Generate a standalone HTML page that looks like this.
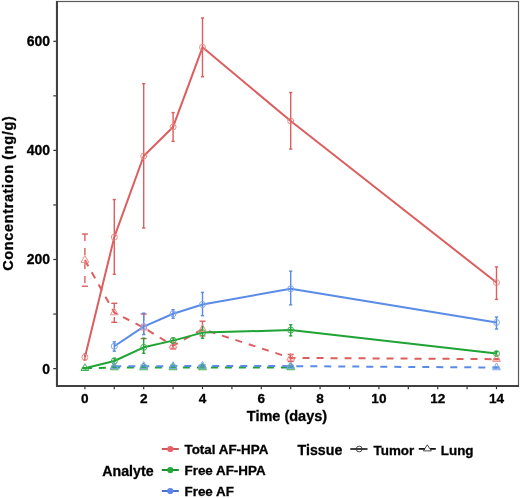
<!DOCTYPE html>
<html><head><meta charset="utf-8"><style>
html,body{margin:0;padding:0;background:#fff;overflow:hidden;}
svg{display:block;}
</style></head><body>
<svg width="520" height="498" viewBox="0 0 520 498">
<rect width="520" height="498" fill="#fff"/>
<rect x="56.5" y="1.5" width="462" height="384.5" fill="none" stroke="#5a5a5a" stroke-width="1.2"/>
<line x1="53.3" x2="57" y1="368.6" y2="368.6" stroke="#333" stroke-width="1.2"/>
<line x1="53.3" x2="57" y1="314.05" y2="314.05" stroke="#333" stroke-width="1.2"/>
<line x1="53.3" x2="57" y1="259.5" y2="259.5" stroke="#333" stroke-width="1.2"/>
<line x1="53.3" x2="57" y1="204.95" y2="204.95" stroke="#333" stroke-width="1.2"/>
<line x1="53.3" x2="57" y1="150.4" y2="150.4" stroke="#333" stroke-width="1.2"/>
<line x1="53.3" x2="57" y1="95.85" y2="95.85" stroke="#333" stroke-width="1.2"/>
<line x1="53.3" x2="57" y1="41.3" y2="41.3" stroke="#333" stroke-width="1.2"/>
<line x1="84.9" x2="84.9" y1="386" y2="389.2" stroke="#333" stroke-width="1.2"/>
<line x1="114.3" x2="114.3" y1="386" y2="389.2" stroke="#333" stroke-width="1.2"/>
<line x1="143.7" x2="143.7" y1="386" y2="389.2" stroke="#333" stroke-width="1.2"/>
<line x1="173.1" x2="173.1" y1="386" y2="389.2" stroke="#333" stroke-width="1.2"/>
<line x1="202.5" x2="202.5" y1="386" y2="389.2" stroke="#333" stroke-width="1.2"/>
<line x1="231.9" x2="231.9" y1="386" y2="389.2" stroke="#333" stroke-width="1.2"/>
<line x1="261.3" x2="261.3" y1="386" y2="389.2" stroke="#333" stroke-width="1.2"/>
<line x1="290.7" x2="290.7" y1="386" y2="389.2" stroke="#333" stroke-width="1.2"/>
<line x1="320.1" x2="320.1" y1="386" y2="389.2" stroke="#333" stroke-width="1.2"/>
<line x1="349.5" x2="349.5" y1="386" y2="389.2" stroke="#333" stroke-width="1.2"/>
<line x1="378.9" x2="378.9" y1="386" y2="389.2" stroke="#333" stroke-width="1.2"/>
<line x1="408.3" x2="408.3" y1="386" y2="389.2" stroke="#333" stroke-width="1.2"/>
<line x1="437.7" x2="437.7" y1="386" y2="389.2" stroke="#333" stroke-width="1.2"/>
<line x1="467.1" x2="467.1" y1="386" y2="389.2" stroke="#333" stroke-width="1.2"/>
<line x1="496.5" x2="496.5" y1="386" y2="389.2" stroke="#333" stroke-width="1.2"/>
<line x1="57" x2="57" y1="1" y2="387" stroke="#404040" stroke-width="2"/>
<line x1="56" x2="519" y1="386" y2="386" stroke="#404040" stroke-width="2"/>
<g stroke="#DC5E5E" stroke-width="1.4" fill="none"><line x1="84.9" x2="84.9" y1="354.09" y2="360.09" /><line x1="83.3" x2="86.5" y1="354.09" y2="354.09"/><line x1="83.3" x2="86.5" y1="360.09" y2="360.09"/></g>
<g stroke="#DC5E5E" stroke-width="1.4" fill="none"><line x1="114.3" x2="114.3" y1="199.5" y2="274.23" /><line x1="112.7" x2="115.9" y1="199.5" y2="199.5"/><line x1="112.7" x2="115.9" y1="274.23" y2="274.23"/></g>
<g stroke="#DC5E5E" stroke-width="1.4" fill="none"><line x1="143.7" x2="143.7" y1="83.69" y2="228.02" /><line x1="142.1" x2="145.3" y1="83.69" y2="83.69"/><line x1="142.1" x2="145.3" y1="228.02" y2="228.02"/></g>
<g stroke="#DC5E5E" stroke-width="1.4" fill="none"><line x1="173.1" x2="173.1" y1="112.6" y2="141.29" /><line x1="171.5" x2="174.7" y1="112.6" y2="112.6"/><line x1="171.5" x2="174.7" y1="141.29" y2="141.29"/></g>
<g stroke="#DC5E5E" stroke-width="1.4" fill="none"><line x1="202.5" x2="202.5" y1="18.01" y2="76.76" /><line x1="200.9" x2="204.1" y1="18.01" y2="18.01"/><line x1="200.9" x2="204.1" y1="76.76" y2="76.76"/></g>
<g stroke="#DC5E5E" stroke-width="1.4" fill="none"><line x1="290.7" x2="290.7" y1="92.52" y2="149.09" /><line x1="289.1" x2="292.3" y1="92.52" y2="92.52"/><line x1="289.1" x2="292.3" y1="149.09" y2="149.09"/></g>
<g stroke="#DC5E5E" stroke-width="1.4" fill="none"><line x1="496.5" x2="496.5" y1="266.92" y2="299.38" /><line x1="494.9" x2="498.1" y1="266.92" y2="266.92"/><line x1="494.9" x2="498.1" y1="299.38" y2="299.38"/></g>
<g stroke="#DC5E5E" stroke-width="1.4" fill="none"><line x1="84.9" x2="84.9" y1="234.03" y2="286.23" stroke-dasharray="7 7"/><line x1="81.9" x2="87.9" y1="234.03" y2="234.03"/><line x1="81.9" x2="87.9" y1="286.23" y2="286.23"/></g>
<g stroke="#DC5E5E" stroke-width="1.4" fill="none"><line x1="114.3" x2="114.3" y1="303.3" y2="322.29" stroke-dasharray="7 7"/><line x1="111.3" x2="117.3" y1="303.3" y2="303.3"/><line x1="111.3" x2="117.3" y1="322.29" y2="322.29"/></g>
<g stroke="#DC5E5E" stroke-width="1.4" fill="none"><line x1="143.7" x2="143.7" y1="314.05" y2="338.6" stroke-dasharray="7 7"/><line x1="140.7" x2="146.7" y1="314.05" y2="314.05"/><line x1="140.7" x2="146.7" y1="338.6" y2="338.6"/></g>
<g stroke="#DC5E5E" stroke-width="1.4" fill="none"><line x1="173.1" x2="173.1" y1="342.42" y2="348.96" stroke-dasharray="7 7"/><line x1="170.1" x2="176.1" y1="342.42" y2="342.42"/><line x1="170.1" x2="176.1" y1="348.96" y2="348.96"/></g>
<g stroke="#DC5E5E" stroke-width="1.4" fill="none"><line x1="202.5" x2="202.5" y1="321.2" y2="335.87" stroke-dasharray="7 7"/><line x1="199.5" x2="205.5" y1="321.2" y2="321.2"/><line x1="199.5" x2="205.5" y1="335.87" y2="335.87"/></g>
<g stroke="#DC5E5E" stroke-width="1.4" fill="none"><line x1="290.7" x2="290.7" y1="354.42" y2="361.51" stroke-dasharray="7 7"/><line x1="287.7" x2="293.7" y1="354.42" y2="354.42"/><line x1="287.7" x2="293.7" y1="361.51" y2="361.51"/></g>
<g stroke="#DC5E5E" stroke-width="1.4" fill="none"><line x1="496.5" x2="496.5" y1="358.73" y2="359.6" stroke-dasharray="7 7"/><line x1="493.5" x2="499.5" y1="358.73" y2="358.73"/><line x1="493.5" x2="499.5" y1="359.6" y2="359.6"/></g>
<g stroke="#1EA334" stroke-width="1.4" fill="none"><line x1="84.9" x2="84.9" y1="367.78" y2="368.6" /><line x1="83.3" x2="86.5" y1="367.78" y2="367.78"/><line x1="83.3" x2="86.5" y1="368.6" y2="368.6"/></g>
<g stroke="#1EA334" stroke-width="1.4" fill="none"><line x1="114.3" x2="114.3" y1="358.24" y2="363.69" /><line x1="112.7" x2="115.9" y1="358.24" y2="358.24"/><line x1="112.7" x2="115.9" y1="363.69" y2="363.69"/></g>
<g stroke="#1EA334" stroke-width="1.4" fill="none"><line x1="143.7" x2="143.7" y1="338.22" y2="353.33" /><line x1="142.1" x2="145.3" y1="338.22" y2="338.22"/><line x1="142.1" x2="145.3" y1="353.33" y2="353.33"/></g>
<g stroke="#1EA334" stroke-width="1.4" fill="none"><line x1="173.1" x2="173.1" y1="337.78" y2="343.51" /><line x1="171.5" x2="174.7" y1="337.78" y2="337.78"/><line x1="171.5" x2="174.7" y1="343.51" y2="343.51"/></g>
<g stroke="#1EA334" stroke-width="1.4" fill="none"><line x1="202.5" x2="202.5" y1="326.6" y2="338.22" /><line x1="200.9" x2="204.1" y1="326.6" y2="326.6"/><line x1="200.9" x2="204.1" y1="338.22" y2="338.22"/></g>
<g stroke="#1EA334" stroke-width="1.4" fill="none"><line x1="290.7" x2="290.7" y1="324.8" y2="335.87" /><line x1="289.1" x2="292.3" y1="324.8" y2="324.8"/><line x1="289.1" x2="292.3" y1="335.87" y2="335.87"/></g>
<g stroke="#1EA334" stroke-width="1.4" fill="none"><line x1="496.5" x2="496.5" y1="351.69" y2="355.51" /><line x1="494.9" x2="498.1" y1="351.69" y2="351.69"/><line x1="494.9" x2="498.1" y1="355.51" y2="355.51"/></g>
<g stroke="#1EA334" stroke-width="1.4" fill="none"><line x1="84.9" x2="84.9" y1="367.78" y2="368.6" stroke-dasharray="7 7"/><line x1="81.9" x2="87.9" y1="367.78" y2="367.78"/><line x1="81.9" x2="87.9" y1="368.6" y2="368.6"/></g>
<g stroke="#1EA334" stroke-width="1.4" fill="none"><line x1="114.3" x2="114.3" y1="366.96" y2="368.05" stroke-dasharray="7 7"/><line x1="111.3" x2="117.3" y1="366.96" y2="366.96"/><line x1="111.3" x2="117.3" y1="368.05" y2="368.05"/></g>
<g stroke="#1EA334" stroke-width="1.4" fill="none"><line x1="143.7" x2="143.7" y1="366.96" y2="368.05" stroke-dasharray="7 7"/><line x1="140.7" x2="146.7" y1="366.96" y2="366.96"/><line x1="140.7" x2="146.7" y1="368.05" y2="368.05"/></g>
<g stroke="#1EA334" stroke-width="1.4" fill="none"><line x1="173.1" x2="173.1" y1="366.96" y2="368.05" stroke-dasharray="7 7"/><line x1="170.1" x2="176.1" y1="366.96" y2="366.96"/><line x1="170.1" x2="176.1" y1="368.05" y2="368.05"/></g>
<g stroke="#1EA334" stroke-width="1.4" fill="none"><line x1="202.5" x2="202.5" y1="366.96" y2="368.05" stroke-dasharray="7 7"/><line x1="199.5" x2="205.5" y1="366.96" y2="366.96"/><line x1="199.5" x2="205.5" y1="368.05" y2="368.05"/></g>
<g stroke="#1EA334" stroke-width="1.4" fill="none"><line x1="290.7" x2="290.7" y1="366.96" y2="368.05" stroke-dasharray="7 7"/><line x1="287.7" x2="293.7" y1="366.96" y2="366.96"/><line x1="287.7" x2="293.7" y1="368.05" y2="368.05"/></g>
<g stroke="#5A8BE6" stroke-width="1.4" fill="none"><line x1="114.3" x2="114.3" y1="341.87" y2="351.14" /><line x1="112.7" x2="115.9" y1="341.87" y2="341.87"/><line x1="112.7" x2="115.9" y1="351.14" y2="351.14"/></g>
<g stroke="#5A8BE6" stroke-width="1.4" fill="none"><line x1="143.7" x2="143.7" y1="313.12" y2="334.62" /><line x1="142.1" x2="145.3" y1="313.12" y2="313.12"/><line x1="142.1" x2="145.3" y1="334.62" y2="334.62"/></g>
<g stroke="#5A8BE6" stroke-width="1.4" fill="none"><line x1="173.1" x2="173.1" y1="309.69" y2="318.2" /><line x1="171.5" x2="174.7" y1="309.69" y2="309.69"/><line x1="171.5" x2="174.7" y1="318.2" y2="318.2"/></g>
<g stroke="#5A8BE6" stroke-width="1.4" fill="none"><line x1="202.5" x2="202.5" y1="292.39" y2="315.69" /><line x1="200.9" x2="204.1" y1="292.39" y2="292.39"/><line x1="200.9" x2="204.1" y1="315.69" y2="315.69"/></g>
<g stroke="#5A8BE6" stroke-width="1.4" fill="none"><line x1="290.7" x2="290.7" y1="271.12" y2="304.89" /><line x1="289.1" x2="292.3" y1="271.12" y2="271.12"/><line x1="289.1" x2="292.3" y1="304.89" y2="304.89"/></g>
<g stroke="#5A8BE6" stroke-width="1.4" fill="none"><line x1="496.5" x2="496.5" y1="317" y2="329" /><line x1="494.9" x2="498.1" y1="317" y2="317"/><line x1="494.9" x2="498.1" y1="329" y2="329"/></g>
<g stroke="#5A8BE6" stroke-width="1.4" fill="none"><line x1="114.3" x2="114.3" y1="365.87" y2="366.96" stroke-dasharray="7 7"/><line x1="111.3" x2="117.3" y1="365.87" y2="365.87"/><line x1="111.3" x2="117.3" y1="366.96" y2="366.96"/></g>
<g stroke="#5A8BE6" stroke-width="1.4" fill="none"><line x1="143.7" x2="143.7" y1="365.33" y2="366.96" stroke-dasharray="7 7"/><line x1="140.7" x2="146.7" y1="365.33" y2="365.33"/><line x1="140.7" x2="146.7" y1="366.96" y2="366.96"/></g>
<g stroke="#5A8BE6" stroke-width="1.4" fill="none"><line x1="173.1" x2="173.1" y1="365.33" y2="366.96" stroke-dasharray="7 7"/><line x1="170.1" x2="176.1" y1="365.33" y2="365.33"/><line x1="170.1" x2="176.1" y1="366.96" y2="366.96"/></g>
<g stroke="#5A8BE6" stroke-width="1.4" fill="none"><line x1="202.5" x2="202.5" y1="364.78" y2="366.96" stroke-dasharray="7 7"/><line x1="199.5" x2="205.5" y1="364.78" y2="364.78"/><line x1="199.5" x2="205.5" y1="366.96" y2="366.96"/></g>
<g stroke="#5A8BE6" stroke-width="1.4" fill="none"><line x1="290.7" x2="290.7" y1="365.33" y2="366.96" stroke-dasharray="7 7"/><line x1="287.7" x2="293.7" y1="365.33" y2="365.33"/><line x1="287.7" x2="293.7" y1="366.96" y2="366.96"/></g>
<g stroke="#5A8BE6" stroke-width="1.4" fill="none"><line x1="496.5" x2="496.5" y1="366.96" y2="368.05" stroke-dasharray="7 7"/><line x1="493.5" x2="499.5" y1="366.96" y2="366.96"/><line x1="493.5" x2="499.5" y1="368.05" y2="368.05"/></g>
<polyline points="84.9,357.31 114.3,237.13 143.7,156.02 173.1,126.94 202.5,47.3 290.7,121 496.5,282.57" fill="none" stroke="#DC5E5E" stroke-width="2.0" stroke-linejoin="round" />
<polyline points="84.9,260.05 114.3,312.52 143.7,327.69 173.1,345.69 202.5,329.21 290.7,357.91 496.5,359.16" fill="none" stroke="#DC5E5E" stroke-width="2.0" stroke-linejoin="round" stroke-dasharray="7 7"/>
<polyline points="84.9,368.22 114.3,361.02 143.7,347.33 173.1,340.62 202.5,332.6 290.7,330.09 496.5,353.54" fill="none" stroke="#1EA334" stroke-width="2.0" stroke-linejoin="round" />
<polyline points="84.9,368.22 114.3,367.51 143.7,367.51 173.1,367.51 202.5,367.51 290.7,367.51" fill="none" stroke="#1EA334" stroke-width="2.0" stroke-linejoin="round" stroke-dasharray="7 7"/>
<polyline points="114.3,346.29 143.7,326.6 173.1,313.72 202.5,304.5 290.7,288.79 496.5,322.51" fill="none" stroke="#5A8BE6" stroke-width="2.0" stroke-linejoin="round" />
<polyline points="114.3,366.42 143.7,366.15 173.1,366.15 202.5,365.87 290.7,366.15 496.5,367.51" fill="none" stroke="#5A8BE6" stroke-width="2.0" stroke-linejoin="round" stroke-dasharray="7 7"/>
<circle cx="84.9" cy="357.31" r="3" fill="none" stroke="#EE8A86" stroke-width="1"/>
<circle cx="114.3" cy="237.13" r="3" fill="none" stroke="#EE8A86" stroke-width="1"/>
<circle cx="143.7" cy="156.02" r="3" fill="none" stroke="#EE8A86" stroke-width="1"/>
<circle cx="173.1" cy="126.94" r="3" fill="none" stroke="#EE8A86" stroke-width="1"/>
<circle cx="202.5" cy="47.3" r="3" fill="none" stroke="#EE8A86" stroke-width="1"/>
<circle cx="290.7" cy="121" r="3" fill="none" stroke="#EE8A86" stroke-width="1"/>
<circle cx="496.5" cy="282.57" r="3" fill="none" stroke="#EE8A86" stroke-width="1"/>
<polygon points="84.9,255.55 81,262.3 88.8,262.3" fill="none" stroke="#EE8A86" stroke-width="1"/>
<polygon points="114.3,308.02 110.4,314.77 118.2,314.77" fill="none" stroke="#EE8A86" stroke-width="1"/>
<polygon points="143.7,323.19 139.8,329.94 147.6,329.94" fill="none" stroke="#EE8A86" stroke-width="1"/>
<polygon points="173.1,341.19 169.2,347.94 177,347.94" fill="none" stroke="#EE8A86" stroke-width="1"/>
<polygon points="202.5,324.71 198.6,331.46 206.4,331.46" fill="none" stroke="#EE8A86" stroke-width="1"/>
<polygon points="290.7,353.41 286.8,360.16 294.6,360.16" fill="none" stroke="#EE8A86" stroke-width="1"/>
<polygon points="496.5,354.66 492.6,361.41 500.4,361.41" fill="none" stroke="#EE8A86" stroke-width="1"/>
<circle cx="114.3" cy="361.02" r="3" fill="none" stroke="#3DB24E" stroke-width="1"/>
<circle cx="143.7" cy="347.33" r="3" fill="none" stroke="#3DB24E" stroke-width="1"/>
<circle cx="173.1" cy="340.62" r="3" fill="none" stroke="#3DB24E" stroke-width="1"/>
<circle cx="202.5" cy="332.6" r="3" fill="none" stroke="#3DB24E" stroke-width="1"/>
<circle cx="290.7" cy="330.09" r="3" fill="none" stroke="#3DB24E" stroke-width="1"/>
<circle cx="496.5" cy="353.54" r="3" fill="none" stroke="#3DB24E" stroke-width="1"/>
<polygon points="84.9,363.72 81,370.47 88.8,370.47" fill="none" stroke="#3DB24E" stroke-width="1"/>
<polygon points="114.3,363.01 110.4,369.76 118.2,369.76" fill="none" stroke="#3DB24E" stroke-width="1"/>
<polygon points="143.7,363.01 139.8,369.76 147.6,369.76" fill="none" stroke="#3DB24E" stroke-width="1"/>
<polygon points="173.1,363.01 169.2,369.76 177,369.76" fill="none" stroke="#3DB24E" stroke-width="1"/>
<polygon points="202.5,363.01 198.6,369.76 206.4,369.76" fill="none" stroke="#3DB24E" stroke-width="1"/>
<polygon points="290.7,363.01 286.8,369.76 294.6,369.76" fill="none" stroke="#3DB24E" stroke-width="1"/>
<circle cx="114.3" cy="346.29" r="3" fill="none" stroke="#7FA6EE" stroke-width="1"/>
<circle cx="143.7" cy="326.6" r="3" fill="none" stroke="#7FA6EE" stroke-width="1"/>
<circle cx="173.1" cy="313.72" r="3" fill="none" stroke="#7FA6EE" stroke-width="1"/>
<circle cx="202.5" cy="304.5" r="3" fill="none" stroke="#7FA6EE" stroke-width="1"/>
<circle cx="290.7" cy="288.79" r="3" fill="none" stroke="#7FA6EE" stroke-width="1"/>
<circle cx="496.5" cy="322.51" r="3" fill="none" stroke="#7FA6EE" stroke-width="1"/>
<polygon points="114.3,361.92 110.4,368.67 118.2,368.67" fill="none" stroke="#7FA6EE" stroke-width="1"/>
<polygon points="143.7,361.65 139.8,368.4 147.6,368.4" fill="none" stroke="#7FA6EE" stroke-width="1"/>
<polygon points="173.1,361.65 169.2,368.4 177,368.4" fill="none" stroke="#7FA6EE" stroke-width="1"/>
<polygon points="202.5,361.37 198.6,368.12 206.4,368.12" fill="none" stroke="#7FA6EE" stroke-width="1"/>
<polygon points="290.7,361.65 286.8,368.4 294.6,368.4" fill="none" stroke="#7FA6EE" stroke-width="1"/>
<polygon points="496.5,363.01 492.6,369.76 500.4,369.76" fill="none" stroke="#7FA6EE" stroke-width="1"/>
<text x="50" y="373.5" font-size="14" text-anchor="end" font-family="Liberation Sans, Arial, sans-serif" font-weight="bold" fill="#000" stroke="#000" stroke-width="0.3">0</text>
<text x="50" y="264.4" font-size="14" text-anchor="end" font-family="Liberation Sans, Arial, sans-serif" font-weight="bold" fill="#000" stroke="#000" stroke-width="0.3">200</text>
<text x="50" y="155.3" font-size="14" text-anchor="end" font-family="Liberation Sans, Arial, sans-serif" font-weight="bold" fill="#000" stroke="#000" stroke-width="0.3">400</text>
<text x="50" y="46.2" font-size="14" text-anchor="end" font-family="Liberation Sans, Arial, sans-serif" font-weight="bold" fill="#000" stroke="#000" stroke-width="0.3">600</text>
<text x="84.9" y="403" font-size="13.6" text-anchor="middle" font-family="Liberation Sans, Arial, sans-serif" font-weight="bold" fill="#000" stroke="#000" stroke-width="0.3">0</text>
<text x="143.7" y="403" font-size="13.6" text-anchor="middle" font-family="Liberation Sans, Arial, sans-serif" font-weight="bold" fill="#000" stroke="#000" stroke-width="0.3">2</text>
<text x="202.5" y="403" font-size="13.6" text-anchor="middle" font-family="Liberation Sans, Arial, sans-serif" font-weight="bold" fill="#000" stroke="#000" stroke-width="0.3">4</text>
<text x="261.3" y="403" font-size="13.6" text-anchor="middle" font-family="Liberation Sans, Arial, sans-serif" font-weight="bold" fill="#000" stroke="#000" stroke-width="0.3">6</text>
<text x="320.1" y="403" font-size="13.6" text-anchor="middle" font-family="Liberation Sans, Arial, sans-serif" font-weight="bold" fill="#000" stroke="#000" stroke-width="0.3">8</text>
<text x="378.9" y="403" font-size="13.6" text-anchor="middle" font-family="Liberation Sans, Arial, sans-serif" font-weight="bold" fill="#000" stroke="#000" stroke-width="0.3">10</text>
<text x="437.7" y="403" font-size="13.6" text-anchor="middle" font-family="Liberation Sans, Arial, sans-serif" font-weight="bold" fill="#000" stroke="#000" stroke-width="0.3">12</text>
<text x="496.5" y="403" font-size="13.6" text-anchor="middle" font-family="Liberation Sans, Arial, sans-serif" font-weight="bold" fill="#000" stroke="#000" stroke-width="0.3">14</text>
<text x="287" y="421" font-size="14.5" text-anchor="middle" font-family="Liberation Sans, Arial, sans-serif" font-weight="bold" fill="#000" stroke="#000" stroke-width="0.3">Time (days)</text>
<text transform="translate(13.2,193.5) rotate(-90)" x="0" y="0" font-size="14.5" text-anchor="middle" textLength="154.6" lengthAdjust="spacing" font-family="Liberation Sans, Arial, sans-serif" font-weight="bold" fill="#000" stroke="#000" stroke-width="0.3">Concentration (ng/g)</text>
<line x1="161.8" x2="178.8" y1="449" y2="449" stroke="#C85A5C" stroke-width="2"/><circle cx="170.3" cy="449" r="3.1" fill="#EA6068"/>
<line x1="161.8" x2="178.8" y1="470" y2="470" stroke="#1F8A30" stroke-width="2"/><circle cx="170.3" cy="470" r="3.1" fill="#22A834"/>
<line x1="161.8" x2="178.8" y1="491" y2="491" stroke="#4A72C8" stroke-width="2"/><circle cx="170.3" cy="491" r="3.1" fill="#5A86EC"/>
<text x="184.5" y="454.2" font-size="13.4" font-family="Liberation Sans, Arial, sans-serif" font-weight="bold" fill="#000" stroke="#000" stroke-width="0.3">Total AF-HPA</text>
<text x="184.5" y="475.2" font-size="13.4" font-family="Liberation Sans, Arial, sans-serif" font-weight="bold" fill="#000" stroke="#000" stroke-width="0.3">Free AF-HPA</text>
<text x="184.5" y="496.2" font-size="13.4" font-family="Liberation Sans, Arial, sans-serif" font-weight="bold" fill="#000" stroke="#000" stroke-width="0.3">Free AF</text>
<text x="102.3" y="475.6" font-size="14.2" font-family="Liberation Sans, Arial, sans-serif" font-weight="bold" fill="#000" stroke="#000" stroke-width="0.3">Analyte</text>
<text x="297.6" y="454.5" font-size="14.2" font-family="Liberation Sans, Arial, sans-serif" font-weight="bold" fill="#000" stroke="#000" stroke-width="0.3">Tissue</text>
<line x1="350.3" x2="367.5" y1="449" y2="449" stroke="#111" stroke-width="1.6"/><circle cx="359.2" cy="449" r="2.9" fill="none" stroke="#333" stroke-width="0.9"/>
<line x1="418.8" x2="435.8" y1="448.8" y2="448.8" stroke="#111" stroke-width="1.7" stroke-dasharray="6.2 5.1"/><polygon points="427.3,444.8 423.4,450.9 431.3,450.9" fill="none" stroke="#333" stroke-width="0.9"/>
<text x="373.6" y="454.5" font-size="13.4" font-family="Liberation Sans, Arial, sans-serif" font-weight="bold" fill="#000" stroke="#000" stroke-width="0.3">Tumor</text>
<text x="440.8" y="454.5" font-size="13.4" font-family="Liberation Sans, Arial, sans-serif" font-weight="bold" fill="#000" stroke="#000" stroke-width="0.3">Lung</text>
</svg>
</body></html>
